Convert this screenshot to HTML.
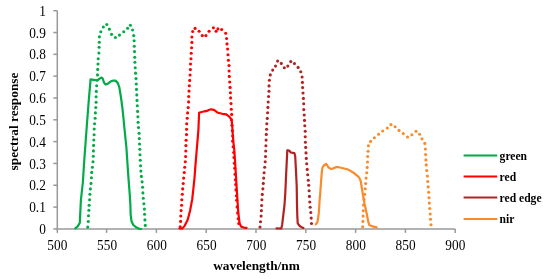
<!DOCTYPE html>
<html><head><meta charset="utf-8"><style>
html,body{margin:0;padding:0;background:#fff;}
svg{display:block;}
text{font-family:"Liberation Serif","Times New Roman",serif;fill:#000;}
.tl text{font-size:13.33px;}
.at{font-size:13.33px;font-weight:bold;}
.lg{font-size:11.6px;font-weight:bold;}
</style></head><body>
<svg width="550" height="279" viewBox="0 0 550 279">
<rect width="550" height="279" fill="#fff"/>
<g stroke="#999999" stroke-width="1.5" fill="none"><path d="M57.3,10.7 V228.9 H455.3" /><path d="M53.3,228.90 H57.3" /><path d="M53.3,207.08 H57.3" /><path d="M53.3,185.26 H57.3" /><path d="M53.3,163.44 H57.3" /><path d="M53.3,141.62 H57.3" /><path d="M53.3,119.80 H57.3" /><path d="M53.3,97.98 H57.3" /><path d="M53.3,76.16 H57.3" /><path d="M53.3,54.34 H57.3" /><path d="M53.3,32.52 H57.3" /><path d="M53.3,10.70 H57.3" /><path d="M57.30,228.9 V232.9" /><path d="M106.60,228.9 V232.9" /><path d="M156.40,228.9 V232.9" /><path d="M206.20,228.9 V232.9" /><path d="M256.00,228.9 V232.9" /><path d="M305.80,228.9 V232.9" /><path d="M355.60,228.9 V232.9" /><path d="M405.40,228.9 V232.9" /><path d="M455.20,228.9 V232.9" /></g>
<g class="tl"><text transform="translate(45.8,234.00) scale(1,1.1)" text-anchor="end">0</text><text transform="translate(45.8,212.18) scale(1,1.1)" text-anchor="end">0.1</text><text transform="translate(45.8,190.36) scale(1,1.1)" text-anchor="end">0.2</text><text transform="translate(45.8,168.54) scale(1,1.1)" text-anchor="end">0.3</text><text transform="translate(45.8,146.72) scale(1,1.1)" text-anchor="end">0.4</text><text transform="translate(45.8,124.90) scale(1,1.1)" text-anchor="end">0.5</text><text transform="translate(45.8,103.08) scale(1,1.1)" text-anchor="end">0.6</text><text transform="translate(45.8,81.26) scale(1,1.1)" text-anchor="end">0.7</text><text transform="translate(45.8,59.44) scale(1,1.1)" text-anchor="end">0.8</text><text transform="translate(45.8,37.62) scale(1,1.1)" text-anchor="end">0.9</text><text transform="translate(45.8,15.80) scale(1,1.1)" text-anchor="end">1</text><text transform="translate(57.30,250.40) scale(1,1.1)" text-anchor="middle">500</text><text transform="translate(107.05,250.40) scale(1,1.1)" text-anchor="middle">550</text><text transform="translate(156.80,250.40) scale(1,1.1)" text-anchor="middle">600</text><text transform="translate(206.55,250.40) scale(1,1.1)" text-anchor="middle">650</text><text transform="translate(256.30,250.40) scale(1,1.1)" text-anchor="middle">700</text><text transform="translate(306.05,250.40) scale(1,1.1)" text-anchor="middle">750</text><text transform="translate(355.80,250.40) scale(1,1.1)" text-anchor="middle">800</text><text transform="translate(405.55,250.40) scale(1,1.1)" text-anchor="middle">850</text><text transform="translate(455.30,250.40) scale(1,1.1)" text-anchor="middle">900</text></g>
<text class="at" x="256.5" y="269.7" text-anchor="middle">wavelength/nm</text>
<text class="at" transform="translate(17.6,121.5) rotate(-90)" text-anchor="middle">spectral response</text>
<g fill="#00AC47"><circle cx="87.7" cy="227.1" r="1.55"/><circle cx="88.2" cy="221.5" r="1.55"/><circle cx="88.5" cy="215.8" r="1.55"/><circle cx="88.9" cy="210.3" r="1.55"/><circle cx="89.1" cy="205.3" r="1.55"/><circle cx="89.6" cy="199.7" r="1.55"/><circle cx="89.9" cy="194.2" r="1.55"/><circle cx="90.4" cy="188.9" r="1.55"/><circle cx="91" cy="183.4" r="1.55"/><circle cx="91.4" cy="177.8" r="1.55"/><circle cx="91.7" cy="172.4" r="1.55"/><circle cx="92.4" cy="167.2" r="1.55"/><circle cx="93" cy="161.8" r="1.55"/><circle cx="93.3" cy="156.3" r="1.55"/><circle cx="93.4" cy="150.9" r="1.55"/><circle cx="93.6" cy="145.4" r="1.55"/><circle cx="93.8" cy="140" r="1.55"/><circle cx="94.1" cy="134.7" r="1.55"/><circle cx="94.2" cy="129" r="1.55"/><circle cx="94.6" cy="123.7" r="1.55"/><circle cx="95.1" cy="118.3" r="1.55"/><circle cx="95.4" cy="112.9" r="1.55"/><circle cx="95.8" cy="107.5" r="1.55"/><circle cx="96.1" cy="102.2" r="1.55"/><circle cx="96.1" cy="96.7" r="1.55"/><circle cx="96.3" cy="91.4" r="1.55"/><circle cx="96.7" cy="85.8" r="1.55"/><circle cx="97.1" cy="80.3" r="1.55"/><circle cx="97.5" cy="74.9" r="1.55"/><circle cx="97.7" cy="69.4" r="1.55"/><circle cx="98" cy="64" r="1.55"/><circle cx="98.2" cy="58.7" r="1.55"/><circle cx="98.9" cy="53.05" r="1.55"/><circle cx="99.1" cy="47.3" r="1.55"/><circle cx="99.3" cy="42.3" r="1.55"/><circle cx="99.4" cy="36.85" r="1.55"/><circle cx="100.8" cy="31.75" r="1.55"/><circle cx="103.3" cy="26.95" r="1.55"/><circle cx="106.8" cy="24.5" r="1.55"/><circle cx="109.4" cy="29.15" r="1.55"/><circle cx="111.55" cy="34.35" r="1.55"/><circle cx="115.4" cy="37.5" r="1.55"/><circle cx="119.45" cy="35.1" r="1.55"/><circle cx="123.75" cy="31.8" r="1.55"/><circle cx="127.6" cy="28.3" r="1.55"/><circle cx="130.4" cy="25.3" r="1.55"/><circle cx="132.6" cy="30" r="1.55"/><circle cx="133.7" cy="35.6" r="1.55"/><circle cx="134.1" cy="40.8" r="1.55"/><circle cx="134.3" cy="46.2" r="1.55"/><circle cx="134.5" cy="51.6" r="1.55"/><circle cx="134.7" cy="57.2" r="1.55"/><circle cx="134.9" cy="62.3" r="1.55"/><circle cx="135.2" cy="67.7" r="1.55"/><circle cx="135.55" cy="73.15" r="1.55"/><circle cx="136" cy="78.6" r="1.55"/><circle cx="136.3" cy="84" r="1.55"/><circle cx="136.5" cy="89.4" r="1.55"/><circle cx="136.8" cy="94.9" r="1.55"/><circle cx="137" cy="100.4" r="1.55"/><circle cx="137.3" cy="105.8" r="1.55"/><circle cx="137.6" cy="111.4" r="1.55"/><circle cx="137.9" cy="116.8" r="1.55"/><circle cx="138.1" cy="122.2" r="1.55"/><circle cx="138.5" cy="127.5" r="1.55"/><circle cx="139.1" cy="133.2" r="1.55"/><circle cx="139.3" cy="138.6" r="1.55"/><circle cx="139.5" cy="144" r="1.55"/><circle cx="139.8" cy="149.3" r="1.55"/><circle cx="140" cy="154.8" r="1.55"/><circle cx="140.3" cy="160.3" r="1.55"/><circle cx="140.6" cy="165.7" r="1.55"/><circle cx="140.9" cy="171.1" r="1.55"/><circle cx="141.4" cy="176.4" r="1.55"/><circle cx="142.1" cy="181.85" r="1.55"/><circle cx="142.6" cy="187.3" r="1.55"/><circle cx="142.9" cy="192.9" r="1.55"/><circle cx="143.3" cy="198.3" r="1.55"/><circle cx="143.9" cy="203.8" r="1.55"/><circle cx="144.4" cy="209.1" r="1.55"/><circle cx="144.6" cy="214.3" r="1.55"/><circle cx="144.9" cy="219.9" r="1.55"/><circle cx="145.3" cy="225.4" r="1.55"/></g>
<polyline points="75.2,228.4 77.5,226.6 79.8,222.9 80.9,200 82.8,183 84.5,157 86.5,130 88.8,100 90.6,79.3 94.8,80.2 98,79.9 100.3,78.2 101.6,77.5 102.7,78.5 103.8,82 104.6,83.5 106,84.5 108.2,83.4 110.9,81.3 113.6,80.5 115.4,80.6 117.7,82.9 119.3,87.2 120.4,93.7 121.2,99 122.5,108.8 123.6,119.5 124.3,127 125.3,136.8 126.4,147.5 127.7,167 128.6,180 129.7,194 130.4,205 130.6,213.8 131.5,221.3 133.3,225 136,227.2 138.7,228.6 141.1,229" stroke="#00AC47" stroke-width="2.2" fill="none" stroke-linejoin="round" stroke-linecap="round"/>
<g fill="#FF0000"><circle cx="180.2" cy="226.9" r="1.55"/><circle cx="180.6" cy="221.4" r="1.55"/><circle cx="180.8" cy="216" r="1.55"/><circle cx="181.1" cy="210.6" r="1.55"/><circle cx="181.6" cy="205.2" r="1.55"/><circle cx="181.8" cy="199.8" r="1.55"/><circle cx="182.3" cy="194.3" r="1.55"/><circle cx="182.7" cy="188.9" r="1.55"/><circle cx="183.2" cy="183.5" r="1.55"/><circle cx="183.65" cy="178.1" r="1.55"/><circle cx="184.25" cy="172.55" r="1.55"/><circle cx="184.7" cy="167.25" r="1.55"/><circle cx="185.3" cy="161.8" r="1.55"/><circle cx="185.6" cy="156.5" r="1.55"/><circle cx="185.8" cy="151.05" r="1.55"/><circle cx="185.9" cy="145.6" r="1.55"/><circle cx="186.1" cy="140.2" r="1.55"/><circle cx="186.5" cy="134.6" r="1.55"/><circle cx="186.6" cy="129.2" r="1.55"/><circle cx="186.7" cy="123.7" r="1.55"/><circle cx="187.2" cy="118.3" r="1.55"/><circle cx="187.6" cy="112.9" r="1.55"/><circle cx="188.2" cy="107.6" r="1.55"/><circle cx="188.6" cy="101.9" r="1.55"/><circle cx="188.7" cy="96.5" r="1.55"/><circle cx="189" cy="91.1" r="1.55"/><circle cx="189.3" cy="85.7" r="1.55"/><circle cx="189.7" cy="80.4" r="1.55"/><circle cx="190.1" cy="75" r="1.55"/><circle cx="190.4" cy="69.6" r="1.55"/><circle cx="190.5" cy="64" r="1.55"/><circle cx="191" cy="58.7" r="1.55"/><circle cx="191.2" cy="53.3" r="1.55"/><circle cx="191.6" cy="47.7" r="1.55"/><circle cx="191.9" cy="42.4" r="1.55"/><circle cx="191.9" cy="37" r="1.55"/><circle cx="192.7" cy="31.5" r="1.55"/><circle cx="195.1" cy="28.4" r="1.55"/><circle cx="199.1" cy="31.3" r="1.55"/><circle cx="202.3" cy="35.6" r="1.55"/><circle cx="205.9" cy="35.6" r="1.55"/><circle cx="209.1" cy="31.3" r="1.55"/><circle cx="213.4" cy="27.8" r="1.55"/><circle cx="216.1" cy="31.3" r="1.55"/><circle cx="217.9" cy="28.9" r="1.55"/><circle cx="221.7" cy="29.5" r="1.55"/><circle cx="225.7" cy="33.2" r="1.55"/><circle cx="226.6" cy="38.5" r="1.55"/><circle cx="227" cy="43.9" r="1.55"/><circle cx="227.6" cy="49" r="1.55"/><circle cx="228" cy="54.8" r="1.55"/><circle cx="228.4" cy="60.2" r="1.55"/><circle cx="229" cy="65.5" r="1.55"/><circle cx="229.1" cy="71" r="1.55"/><circle cx="229.3" cy="76.4" r="1.55"/><circle cx="229.7" cy="82" r="1.55"/><circle cx="230.1" cy="87.4" r="1.55"/><circle cx="230.4" cy="92.7" r="1.55"/><circle cx="230.6" cy="97.9" r="1.55"/><circle cx="231" cy="103.6" r="1.55"/><circle cx="231.3" cy="109.2" r="1.55"/><circle cx="231.7" cy="114.4" r="1.55"/><circle cx="231.42" cy="119.8" r="1.55"/><circle cx="231.97" cy="125.3" r="1.55"/><circle cx="232.34" cy="130.7" r="1.55"/><circle cx="232.7" cy="136.1" r="1.55"/><circle cx="232.53" cy="141.1" r="1.55"/><circle cx="233.13" cy="146.8" r="1.55"/><circle cx="233.66" cy="152.5" r="1.55"/><circle cx="233.99" cy="157.5" r="1.55"/><circle cx="234.36" cy="163.3" r="1.55"/><circle cx="234.69" cy="168.3" r="1.55"/><circle cx="235.06" cy="174.3" r="1.55"/><circle cx="235.38" cy="179.7" r="1.55"/><circle cx="235.67" cy="184.5" r="1.55"/><circle cx="235.99" cy="189.9" r="1.55"/><circle cx="236.38" cy="195.8" r="1.55"/><circle cx="236.67" cy="200.3" r="1.55"/><circle cx="237.1" cy="206.9" r="1.55"/><circle cx="237.59" cy="212.9" r="1.55"/><circle cx="238.2" cy="218.8" r="1.55"/><circle cx="238.8" cy="223.5" r="1.55"/></g>
<polyline points="179.5,228.5 182.3,228.6 184.8,225.6 187.7,219.7 190,211 192.2,199.4 193.5,187.7 194.5,178 195.4,165.8 196.6,151.5 197.5,140.8 198.4,130 199.1,112.8 200.7,112.2 204.5,111.3 207.2,110.9 208.8,110 211,109.3 214,109.9 218,112.8 222.3,113.8 226.3,114.4 229.5,116.8 231.6,119.6 232.3,126.6 232.8,135 233.5,143 234.3,150 235.6,170 236.8,190 238.1,210 238.9,218 239.6,223.5 241.1,226.6 244.6,227.8 246.6,227.8" stroke="#FF0000" stroke-width="2.2" fill="none" stroke-linejoin="round" stroke-linecap="round"/>
<g fill="#B22222"><circle cx="260" cy="227" r="1.55"/><circle cx="260.5" cy="221.7" r="1.55"/><circle cx="261.1" cy="216.1" r="1.55"/><circle cx="261.4" cy="210.65" r="1.55"/><circle cx="261.6" cy="205.45" r="1.55"/><circle cx="261.9" cy="199.8" r="1.55"/><circle cx="262.3" cy="194.4" r="1.55"/><circle cx="262.9" cy="188.85" r="1.55"/><circle cx="263.3" cy="183.4" r="1.55"/><circle cx="263.7" cy="178.1" r="1.55"/><circle cx="264.1" cy="172.7" r="1.55"/><circle cx="264.7" cy="167.3" r="1.55"/><circle cx="265.2" cy="161.7" r="1.55"/><circle cx="265.5" cy="156.5" r="1.55"/><circle cx="265.7" cy="151" r="1.55"/><circle cx="265.9" cy="145.7" r="1.55"/><circle cx="266.1" cy="140.1" r="1.55"/><circle cx="266.3" cy="134.4" r="1.55"/><circle cx="266.6" cy="129.2" r="1.55"/><circle cx="266.8" cy="123.8" r="1.55"/><circle cx="267.3" cy="118.4" r="1.55"/><circle cx="267.6" cy="112.8" r="1.55"/><circle cx="267.9" cy="107.4" r="1.55"/><circle cx="268.2" cy="102" r="1.55"/><circle cx="268.6" cy="96.5" r="1.55"/><circle cx="269" cy="91.3" r="1.55"/><circle cx="269" cy="85.9" r="1.55"/><circle cx="269.4" cy="80.3" r="1.55"/><circle cx="270.3" cy="74.9" r="1.55"/><circle cx="272.7" cy="70.1" r="1.55"/><circle cx="275.5" cy="66.1" r="1.55"/><circle cx="277.6" cy="61.1" r="1.55"/><circle cx="281.3" cy="63.4" r="1.55"/><circle cx="284.3" cy="67.7" r="1.55"/><circle cx="287.8" cy="66.1" r="1.55"/><circle cx="290.75" cy="61.6" r="1.55"/><circle cx="294.45" cy="63.6" r="1.55"/><circle cx="298.1" cy="67.4" r="1.55"/><circle cx="300.8" cy="71.7" r="1.55"/><circle cx="302.1" cy="77" r="1.55"/><circle cx="302.4" cy="82.4" r="1.55"/><circle cx="302.6" cy="87.6" r="1.55"/><circle cx="303" cy="93" r="1.55"/><circle cx="303.4" cy="98.4" r="1.55"/><circle cx="303.7" cy="103.8" r="1.55"/><circle cx="303.8" cy="109.6" r="1.55"/><circle cx="304.2" cy="115" r="1.55"/><circle cx="304.5" cy="120.4" r="1.55"/><circle cx="304.8" cy="125.8" r="1.55"/><circle cx="305.2" cy="131.2" r="1.55"/><circle cx="305.2" cy="136.7" r="1.55"/><circle cx="305.4" cy="142.2" r="1.55"/><circle cx="305.7" cy="147.4" r="1.55"/><circle cx="306" cy="152.9" r="1.55"/><circle cx="306.3" cy="158.4" r="1.55"/><circle cx="306.7" cy="163.8" r="1.55"/><circle cx="307.2" cy="169.4" r="1.55"/><circle cx="307.7" cy="174.8" r="1.55"/><circle cx="308.3" cy="180.2" r="1.55"/><circle cx="308.7" cy="185.3" r="1.55"/><circle cx="309.1" cy="190.8" r="1.55"/><circle cx="309.4" cy="196.4" r="1.55"/><circle cx="309.8" cy="202" r="1.55"/><circle cx="310.2" cy="207.3" r="1.55"/><circle cx="310.8" cy="212.5" r="1.55"/><circle cx="311.2" cy="218.1" r="1.55"/><circle cx="311.5" cy="223.5" r="1.55"/></g>
<polyline points="276.5,228.3 281.3,228.5 282.2,224.4 283.3,215 284.5,205 285.3,193 286.1,175 286.5,166.9 287.3,150.5 287.9,150.1 289.6,151 290.8,152.5 294.4,153.2 295.2,156 296,171 296.7,186 297,205 297.3,215.8 297.7,223.3 299.7,226 302.4,227.6 303.4,228.1" stroke="#B22222" stroke-width="2.2" fill="none" stroke-linejoin="round" stroke-linecap="round"/>
<g fill="#FA8A2A"><circle cx="362.7" cy="226.8" r="1.55"/><circle cx="362.9" cy="221.4" r="1.55"/><circle cx="363.1" cy="216.1" r="1.55"/><circle cx="363.2" cy="210.7" r="1.55"/><circle cx="363.4" cy="205" r="1.55"/><circle cx="364" cy="199.6" r="1.55"/><circle cx="364.7" cy="194.2" r="1.55"/><circle cx="365.2" cy="188.8" r="1.55"/><circle cx="365.7" cy="183.45" r="1.55"/><circle cx="366.1" cy="178.1" r="1.55"/><circle cx="366.7" cy="172.7" r="1.55"/><circle cx="367.2" cy="167.4" r="1.55"/><circle cx="367.5" cy="162" r="1.55"/><circle cx="367.7" cy="156.5" r="1.55"/><circle cx="368.1" cy="151.2" r="1.55"/><circle cx="368.4" cy="145.75" r="1.55"/><circle cx="370.6" cy="141.4" r="1.55"/><circle cx="374.35" cy="137.75" r="1.55"/><circle cx="378.55" cy="134.25" r="1.55"/><circle cx="382.65" cy="131.05" r="1.55"/><circle cx="387.3" cy="127.95" r="1.55"/><circle cx="390.95" cy="124.6" r="1.55"/><circle cx="395.1" cy="126.8" r="1.55"/><circle cx="399" cy="130.4" r="1.55"/><circle cx="403.3" cy="133.6" r="1.55"/><circle cx="407.5" cy="136.95" r="1.55"/><circle cx="411.9" cy="134.7" r="1.55"/><circle cx="416" cy="131.2" r="1.55"/><circle cx="419.6" cy="134.3" r="1.55"/><circle cx="422" cy="138.85" r="1.55"/><circle cx="424.8" cy="143.4" r="1.55"/><circle cx="425.4" cy="149" r="1.55"/><circle cx="425.6" cy="154.6" r="1.55"/><circle cx="425.9" cy="159.9" r="1.55"/><circle cx="426.25" cy="164.9" r="1.55"/><circle cx="426.7" cy="170.5" r="1.55"/><circle cx="427.4" cy="176.1" r="1.55"/><circle cx="427.8" cy="181.5" r="1.55"/><circle cx="428.15" cy="186.9" r="1.55"/><circle cx="428.7" cy="192.3" r="1.55"/><circle cx="429" cy="197.7" r="1.55"/><circle cx="429.3" cy="203.1" r="1.55"/><circle cx="429.75" cy="208.45" r="1.55"/><circle cx="430.2" cy="214" r="1.55"/><circle cx="430.5" cy="219.3" r="1.55"/><circle cx="431" cy="224.7" r="1.55"/></g>
<polyline points="315.8,224.4 317.4,222.2 318.5,215.8 319.1,209 319.6,200 320.2,193.8 320.9,183.5 321.8,172.2 322.6,167.2 324.3,165 326.1,163.9 327.2,165.3 328.6,167.6 330.8,168.8 332.9,168.6 335.8,167.2 338.7,167.2 343,168.2 347.3,169.3 350,170.6 354.3,173.3 357.4,175.8 359.2,177.8 360.7,181 361.7,187.4 363,195 364.6,204 365.9,210 367,215 368.3,222 369.5,225.3 372.8,226.4 376.7,227.4" stroke="#FA8A2A" stroke-width="2.2" fill="none" stroke-linejoin="round" stroke-linecap="round"/>
<path d="M463.6,155.6 H497.3" stroke="#00AC47" stroke-width="2" stroke-linecap="butt"/>
<text class="lg" x="499.6" y="160.00">green</text>
<path d="M463.6,176.5 H497.3" stroke="#FF0000" stroke-width="2" stroke-linecap="butt"/>
<text class="lg" x="499.6" y="180.90">red</text>
<path d="M463.6,197.6 H497.3" stroke="#B22222" stroke-width="2" stroke-linecap="butt"/>
<text class="lg" x="499.6" y="202.00">red edge</text>
<path d="M463.6,218.9 H497.3" stroke="#FA8A2A" stroke-width="2" stroke-linecap="butt"/>
<text class="lg" x="499.6" y="223.30">nir</text>
</svg>
</body></html>
